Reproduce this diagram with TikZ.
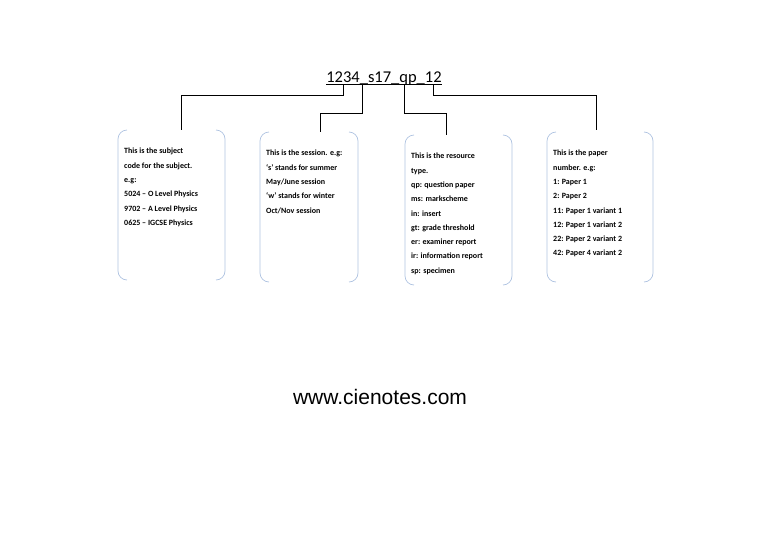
\documentclass[tikz,border=0pt]{standalone}
\usepackage{fontspec}
\setmainfont{Carlito}
\newfontfamily\webfont{Liberation Sans}
\definecolor{brkcol}{RGB}{175,195,225}
\begin{document}
\begin{tikzpicture}[x=1pt,y=-1pt,
  brk/.style={draw=brkcol, line width=0.7pt, rounded corners=9pt},
  conn/.style={draw=black, line width=0.8pt},
  txt/.style={anchor=north west, align=left, font=\bfseries\fontsize{8}{14.3}\selectfont, inner sep=0pt}]
\useasboundingbox (0,0) rectangle (768,544);
\node[anchor=base, font=\fontsize{16.5}{18}\selectfont, inner sep=0pt] (title) at (384,82) {1234\_s17\_qp\_12};
\draw[line width=0.6pt] (title.south west) ++(0,-0.5) coordinate (u1) -- (title.south east |- u1);
\coordinate (a) at (343,85); \coordinate (b) at (362,85);
\coordinate (c) at (404,85); \coordinate (d) at (433,85);
% brackets
\foreach \l/\r/\t/\b in {118/225/130/280, 260/358/132/282, 405/512/135/285, 547/653/132/282}{
  \draw[brk] (\l+9,\t) -- (\l,\t) -- (\l,\b) -- (\l+9,\b);
  \draw[brk] (\r-9,\t) -- (\r,\t) -- (\r,\b) -- (\r-9,\b);
}
\coordinate (t1) at (181,130); \coordinate (t2) at (320,132);
\coordinate (t3) at (446,135); \coordinate (t4) at (596,130);
\draw[conn] (a) -- (343,95) -| (t1);
\draw[conn] (b) -- (362,113) -| (t2);
\draw[conn] (c) -- (404,113) -| (t3);
\draw[conn] (d) -- (433,95) -| (t4);
\node[txt] (n1) at (124,148) {This is the subject\\code for the subject.\\e.g:\\5024 -- O Level Physics\\9702 -- A Level Physics\\0625 -- IGCSE Physics};
\node[txt] (n2) at (266,150) {This is the session. e.g:\\‘s’ stands for summer\\May/June session\\‘w’ stands for winter\\Oct/Nov session};
\node[txt] (n3) at (411,153) {This is the resource\\type.\\qp: question paper\\ms: markscheme\\in: insert\\gt: grade threshold\\er: examiner report\\ir: information report\\sp: specimen};
\node[txt] (n4) at (553,150) {This is the paper\\number. e.g:\\1: Paper 1\\ 2: Paper 2\\11: Paper 1 variant 1\\12: Paper 1 variant 2\\22: Paper 2 variant 2\\42: Paper 4 variant 2};
\node[font=\webfont\fontsize{21}{24}\selectfont] (web) at (380,397) {www.cienotes.com};
\end{tikzpicture}
\end{document}
